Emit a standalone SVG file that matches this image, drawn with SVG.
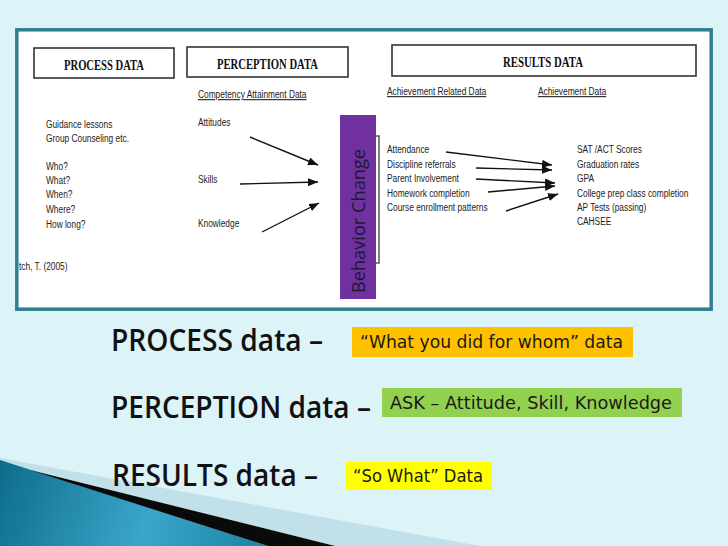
<svg xmlns="http://www.w3.org/2000/svg" width="728" height="546" viewBox="0 0 728 546">
<defs>
<style>
.hdr{font-family:"Liberation Serif","Times New Roman",serif;font-size:15px;font-weight:bold;fill:#111;text-anchor:middle}
.hbox{fill:#fff;stroke:#333;stroke-width:1.6}
.sm{font-family:"Liberation Sans",Arial,sans-serif;font-size:11px;fill:#222}
.ul{text-decoration:underline}
.big{font-family:"Open Sans","Noto Sans","DejaVu Sans",sans-serif;font-size:30px;font-weight:600;fill:#111}
.note{font-family:"DejaVu Sans",Verdana,sans-serif;font-size:17px;fill:#1a1a1a}
.conn line{stroke:#111;stroke-width:1.4;marker-end:url(#ah)}
</style>
<marker id="ah" markerUnits="userSpaceOnUse" markerWidth="10" markerHeight="8" refX="10" refY="4" orient="auto">
<path d="M0,0 L10,4 L0,8 z" fill="#111"/>
</marker>
<linearGradient id="blue" x1="0" y1="460" x2="250" y2="546" gradientUnits="userSpaceOnUse">
<stop offset="0" stop-color="#0D6C8B"/>
<stop offset="0.6" stop-color="#3BA6CA"/>
<stop offset="1" stop-color="#1F88AB"/>
</linearGradient>
</defs>
<rect width="728" height="546" fill="#DCF3F8"/>

<g id="decoration">
<polygon points="0,458 480,546 0,546" fill="#C2E0EA"/>
<polygon points="0,460 268,546 0,546" fill="url(#blue)"/>
<polygon points="30,470 335,546 268,546" fill="#0a0a0a"/>
</g>

<g id="panel">
<rect x="16.8" y="29.8" width="694.4" height="279.4" fill="#fff" stroke="#31808F" stroke-width="3.5"/>
</g>

<g id="process-header">
<rect class="hbox" x="34" y="48" width="140" height="30"/>
<text class="hdr" x="104" y="70" textLength="80" lengthAdjust="spacingAndGlyphs">PROCESS DATA</text>
</g>
<g id="perception-header">
<rect class="hbox" x="187" y="47" width="161" height="30"/>
<text class="hdr" x="267.5" y="69" textLength="101" lengthAdjust="spacingAndGlyphs">PERCEPTION DATA</text>
</g>
<g id="results-header">
<rect class="hbox" x="392" y="45" width="304" height="31"/>
<text class="hdr" x="543" y="67" textLength="80" lengthAdjust="spacingAndGlyphs">RESULTS DATA</text>
</g>

<g id="panel-texts" transform="scale(0.76 1)">
<g id="process-list">
<text class="sm" x="60.53" y="128">Guidance lessons</text>
<text class="sm" x="60.53" y="142">Group Counseling etc.</text>
<text class="sm" x="60.53" y="170">Who?</text>
<text class="sm" x="60.53" y="184">What?</text>
<text class="sm" x="60.53" y="198">When?</text>
<text class="sm" x="60.53" y="213">Where?</text>
<text class="sm" x="60.53" y="228">How long?</text>
</g>
<text id="citation" class="sm" x="25" y="270">tch, T. (2005)</text>
<g id="perception-list">
<text class="sm ul" x="260.53" y="98">Competency Attainment Data</text>
<text class="sm" x="260.53" y="126">Attitudes</text>
<text class="sm" x="260.53" y="183">Skills</text>
<text class="sm" x="260.53" y="227">Knowledge</text>
</g>
<g id="achievement-related">
<text class="sm ul" x="509.21" y="95">Achievement Related Data</text>
<text class="sm" x="509.21" y="153">Attendance</text>
<text class="sm" x="509.21" y="168">Discipline referrals</text>
<text class="sm" x="509.21" y="182">Parent Involvement</text>
<text class="sm" x="509.21" y="197">Homework completion</text>
<text class="sm" x="509.21" y="211">Course enrollment patterns</text>
</g>
<g id="achievement">
<text class="sm ul" x="707.89" y="95">Achievement Data</text>
<text class="sm" x="759.21" y="153">SAT /ACT Scores</text>
<text class="sm" x="759.21" y="168">Graduation rates</text>
<text class="sm" x="759.21" y="182">GPA</text>
<text class="sm" x="759.21" y="197">College prep class completion</text>
<text class="sm" x="759.21" y="211">AP Tests (passing)</text>
<text class="sm" x="759.21" y="225">CAHSEE</text>
</g>
</g>

<g id="behavior-change">
<path d="M376,136 H379 V263 H376" fill="none" stroke="#555" stroke-width="1.5"/>
<rect x="340" y="115" width="36" height="184" fill="#7030A0"/>
<text transform="translate(365,293) rotate(-90)" font-family="'Open Sans','Noto Sans',sans-serif" font-size="18" fill="#1a1a2e" textLength="144" lengthAdjust="spacingAndGlyphs">Behavior Change</text>
</g>

<g id="connectors" class="conn">
<line x1="250" y1="137" x2="318" y2="165"/>
<line x1="240" y1="184" x2="318" y2="182"/>
<line x1="262" y1="232" x2="319" y2="203"/>
<line x1="446" y1="152" x2="552" y2="165"/>
<line x1="476" y1="168" x2="552" y2="170"/>
<line x1="476" y1="179" x2="555" y2="183"/>
<line x1="488" y1="192" x2="555" y2="186"/>
<line x1="506" y1="211" x2="558" y2="194"/>
</g>

<g id="process-label">
<text class="big" x="111" y="351" textLength="212" lengthAdjust="spacingAndGlyphs">PROCESS data –</text>
<rect x="352" y="327" width="281" height="30" fill="#FFC000"/>
<text class="note" x="360" y="348" textLength="263" lengthAdjust="spacingAndGlyphs">“What you did for whom” data</text>
</g>
<g id="perception-label">
<text class="big" x="111" y="418" textLength="260" lengthAdjust="spacingAndGlyphs">PERCEPTION data –</text>
<rect x="382" y="388" width="300" height="29" fill="#92D050"/>
<text class="note" x="390" y="409" textLength="282" lengthAdjust="spacingAndGlyphs">ASK – Attitude, Skill, Knowledge</text>
</g>
<g id="results-label">
<text class="big" x="112" y="486" textLength="206" lengthAdjust="spacingAndGlyphs">RESULTS data –</text>
<rect x="346" y="462" width="146" height="28" fill="#FFFF00"/>
<text class="note" x="353" y="482" textLength="130" lengthAdjust="spacingAndGlyphs">“So What” Data</text>
</g>
</svg>
